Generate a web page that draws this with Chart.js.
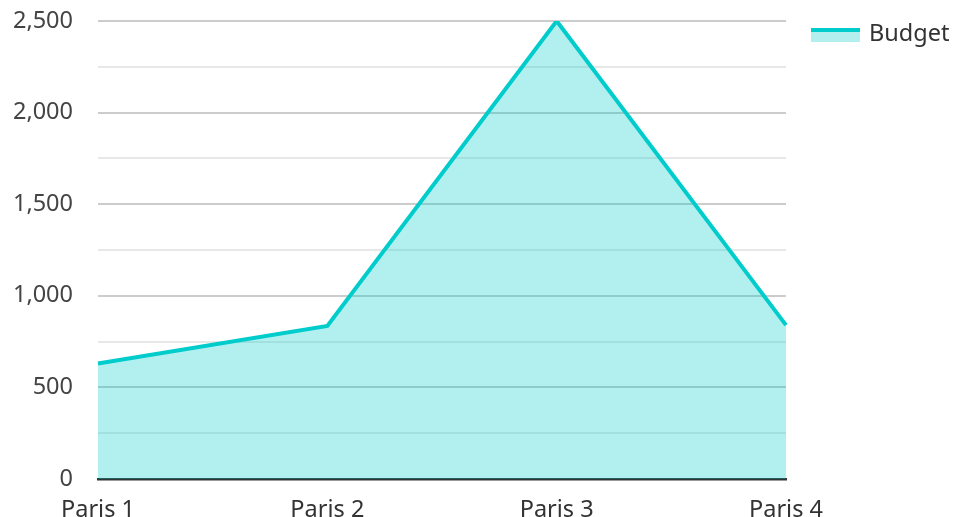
<!DOCTYPE html>
<html>
<head>
<meta charset="utf-8">
<script src="https://cdn.jsdelivr.net/npm/chart.js@4/dist/chart.umd.min.js"></script>
<style>
  html, body { margin: 0; padding: 0; background: #fff; }
  #wrap { position: relative; width: 954px; height: 517px; }
  #legend { position: absolute; left: 811px; top: 16px; font-family: "Noto Sans", sans-serif; font-size: 23.5px; color: #333; display: flex; align-items: center; }
  #legend .swatch { width: 49px; height: 10px; background: #b2efee; border-top: 4px solid #00cccc; margin-right: 9px; margin-top: 6px; }
</style>
</head>
<body>
<div id="wrap">
  <canvas id="chart" width="954" height="517"></canvas>
  <div id="legend"><span class="swatch"></span><span>Budget</span></div>
</div>
<script>
// categories and values
const labels = ['Paris 1', 'Paris 2', 'Paris 3', 'Paris 4'];
const budget = [630, 835, 2500, 840];
const yTicks = [0, 500, 1000, 1500, 2000, 2500];

const lineColor = '#00cccc';
const fillColor = 'rgba(0, 204, 204, 0.3)';

const ctx = document.getElementById('chart').getContext('2d');
const chart = new Chart(ctx, {
    type: 'line',
    data: {
        labels: labels,
        datasets: [{
            label: 'Budget',
            data: budget,
            borderColor: lineColor,
            backgroundColor: fillColor,
            borderWidth: 4,
            fill: 'origin',
            pointRadius: 0,
            tension: 0
        }]
    },
    options: {
        responsive: false,
        animation: false,
        layout: { padding: { top: 21, right: 168, left: 0, bottom: 0 } },
        plugins: {
            legend: { display: false },
            tooltip: { enabled: false }
        },
        scales: {
            x: {
                offset: false,
                grid: { display: false, drawTicks: false },
                border: { color: '#333', width: 2.5 },
                ticks: {
                    color: '#333',
                    padding: 17,
                    maxRotation: 0,
                    font: { family: 'Noto Sans', size: 23.5 }
                },
                afterFit: function(scale) { scale.height = 38; }
            },
            y: {
                min: 0,
                max: 2500,
                grid: {
                    drawTicks: false,
                    color: function(c) {
                        return yTicks.includes(c.tick.value) ? '#cccccc' : '#e8e8e8';
                    },
                    lineWidth: 2
                },
                border: { display: false },
                ticks: {
                    stepSize: 250,
                    color: '#444',
                    padding: 25,
                    font: { family: 'Noto Sans', size: 23.5 },
                    callback: function(v) {
                        return yTicks.includes(v) ? v.toLocaleString('en-US') : '';
                    }
                },
                afterFit: function(scale) {
                    scale.width = 98;
                    // tick padding would otherwise push the plot top down
                    scale.paddingTop = 0;
                    scale.paddingBottom = 0;
                }
            }
        }
    }
});
</script>
</body>
</html>
